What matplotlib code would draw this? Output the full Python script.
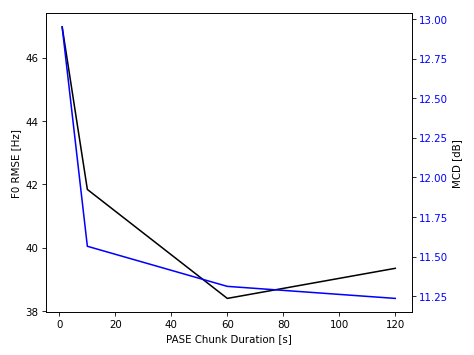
import matplotlib
matplotlib.use("Agg")
import matplotlib.pyplot as plt

# PASE chunk durations and metrics
durations = [1, 10, 60, 120]
f0_rmse = [46.97, 41.84, 38.40, 39.35]
mcd = [12.95, 11.566, 11.313, 11.237]

fig, ax1 = plt.subplots(figsize=(6.4, 4.8), dpi=74.0625)
ax1.plot(durations, f0_rmse, color='k')
ax1.set_xlabel('PASE Chunk Duration [s]')
ax1.set_ylabel('F0 RMSE [Hz]')

ax2 = ax1.twinx()
ax2.plot(durations, mcd, color='b')
ax2.set_ylabel('MCD [dB]')
ax2.tick_params(axis='y', labelcolor='b')

fig.subplots_adjust(left=0.096, right=0.869, top=0.961, bottom=0.121)
fig.savefig('out.png')
